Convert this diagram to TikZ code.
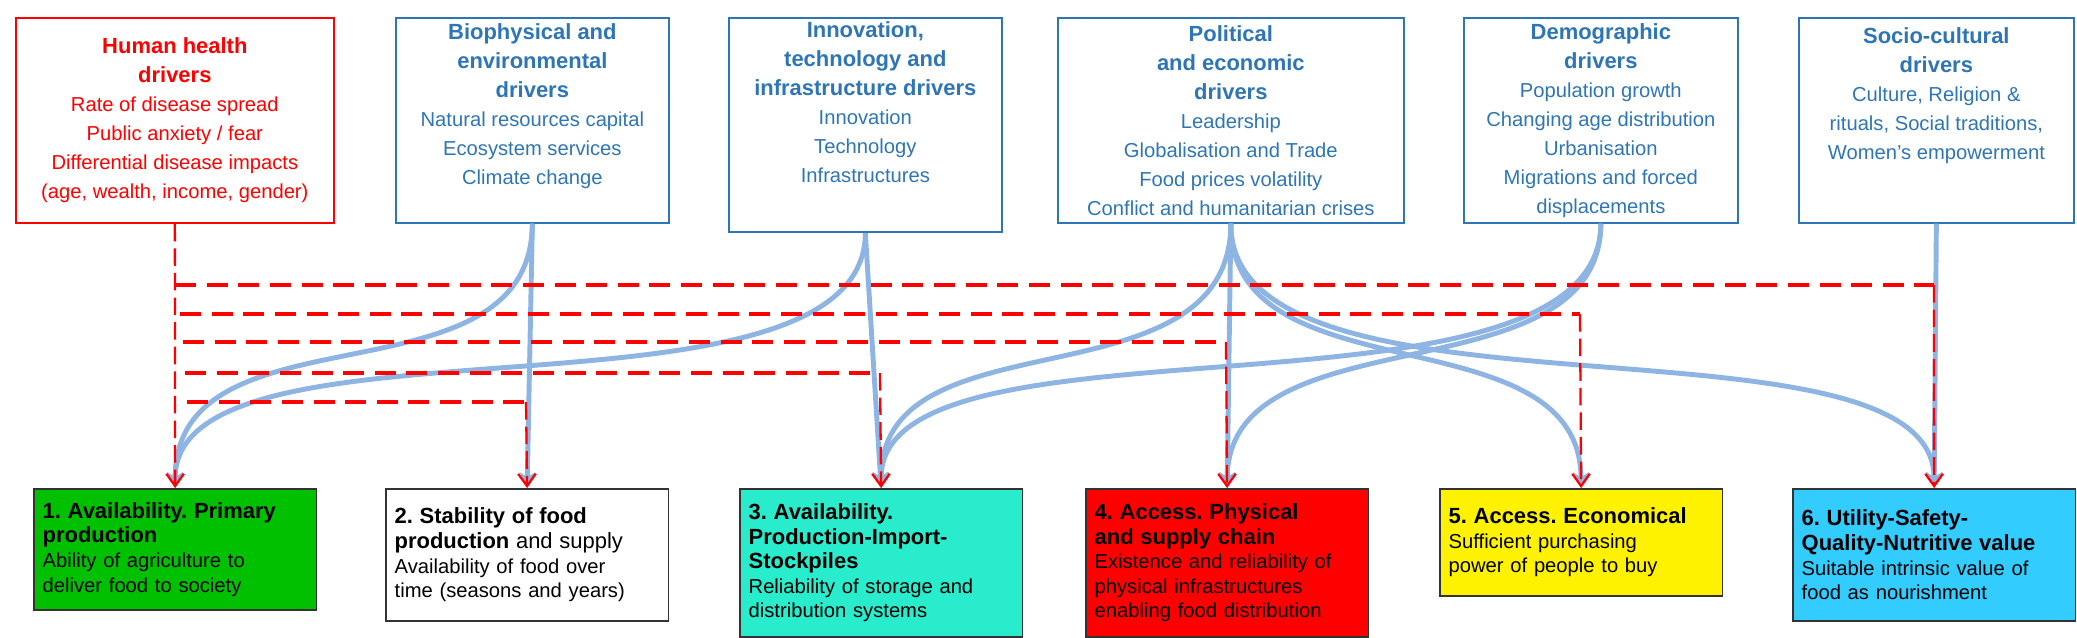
\documentclass[tikz,border=0pt]{standalone}
\usepackage{fontspec}
\setmainfont{Liberation Sans}
\usetikzlibrary{arrows.meta}
\definecolor{dblue}{RGB}{46,117,182}
\definecolor{lblue}{RGB}{141,180,226}
\definecolor{bgreen}{RGB}{0,192,0}
\definecolor{bcyan}{RGB}{40,236,204}
\definecolor{bsky}{RGB}{51,204,255}
\frenchspacing
\newcommand{\toptitle}[1]{\textbf{\fontsize{12.5}{16.5}\selectfont #1}}
\newcommand{\bottitle}[1]{\textbf{\fontsize{12.5}{15}\selectfont #1}}
\tikzset{
  topbox/.style={draw=dblue, line width=1pt, text=dblue, align=center, anchor=north west, inner sep=2pt, font=\fontsize{11.5}{16.5}\selectfont},
  botbox/.style={draw=black!80, line width=1pt, text=black, align=left, anchor=north west, inner sep=5pt, font=\fontsize{11.5}{14}\selectfont},
  bluearr/.style={draw=lblue, line width=2.8pt, -{Stealth[length=9pt,width=9pt]}},
  redh/.style={draw=red, line width=2.2pt, dash pattern=on 12pt off 6pt},
  redv/.style={draw=red, line width=1.3pt, dash pattern=on 10pt off 4pt, -{Straight Barb[length=7pt,width=10pt]}},
}
\begin{document}
\begin{tikzpicture}[x=0.02cm,y=-0.02cm]
\useasboundingbox (0,0) rectangle (2077,637);
% top boxes
\node[topbox, draw=red, text=red, minimum width=6.36cm, minimum height=4.1cm] (hh) at (15,17)
 {\toptitle{Human health}\\\toptitle{drivers}\\Rate of disease spread\\Public anxiety / fear\\Differential disease impacts\\(age, wealth, income, gender)};
\node[topbox, minimum width=5.46cm, minimum height=4.1cm] (bio) at (395,17)
 {\toptitle{Biophysical and}\\\toptitle{environmental}\\\toptitle{drivers}\\Natural resources capital\\Ecosystem services\\Climate change\\[2pt]};
\node[topbox, minimum width=5.46cm, minimum height=4.1cm] (inn) at (728,17)
 {\toptitle{Innovation,}\\\toptitle{technology and}\\\toptitle{infrastructure drivers}\\Innovation\\Technology\\Infrastructures\\[10pt]};
\node[topbox, minimum width=6.92cm, minimum height=4.1cm] (pol) at (1057,17)
 {\toptitle{Political}\\\toptitle{and economic}\\\toptitle{drivers}\\Leadership\\Globalisation and Trade\\Food prices volatility\\Conflict and humanitarian crises};
\node[topbox, minimum width=5.48cm, minimum height=4.1cm] (dem) at (1463,17)
 {\toptitle{Demographic}\\\toptitle{drivers}\\Population growth\\Changing age distribution\\Urbanisation\\Migrations and forced\\displacements};
\node[topbox, minimum width=5.5cm, minimum height=4.1cm] (soc) at (1798,17)
 {\toptitle{Socio-cultural}\\\toptitle{drivers}\\Culture, Religion \&\\rituals, Social traditions,\\Women's empowerment\\[14pt]};
% bottom boxes
\node[botbox, fill=bgreen, minimum width=5.64cm, minimum height=2.42cm, text width=5.3cm] (b1) at (33,488)
 {\bottitle{1. Availability. Primary}\\\bottitle{production}\\Ability of agriculture to\\deliver food to society\\[8pt]};
\node[botbox, fill=white, minimum width=5.64cm, minimum height=2.64cm, text width=5.3cm] (b2) at (385,488)
 {\bottitle{2. Stability of food}\\{\fontsize{12.5}{15}\selectfont\textbf{production} and supply}\\Availability of food over\\time (seasons and years)\\[16pt]};
\node[botbox, fill=bcyan, minimum width=5.62cm, minimum height=2.96cm, text width=5.3cm] (b3) at (739,488)
 {\bottitle{3. Availability.}\\\bottitle{Production-Import-}\\\bottitle{Stockpiles}\\Reliability of storage and\\distribution systems\\[8pt]};
\node[botbox, fill=red, minimum width=5.64cm, minimum height=2.96cm, text width=5.3cm] (b4) at (1085,488)
 {\bottitle{4. Access. Physical}\\\bottitle{and supply chain}\\Existence and reliability of\\physical infrastructures\\enabling food distribution\\[4pt]};
\node[botbox, fill=yellow, minimum width=5.64cm, minimum height=2.14cm, text width=5.3cm] (b5) at (1439,488)
 {\bottitle{5. Access. Economical}\\Sufficient purchasing\\power of people to buy\\[10pt]};
\node[botbox, fill=bsky, minimum width=5.64cm, minimum height=2.64cm, text width=5.3cm] (b6) at (1792,488)
 {\bottitle{6. Utility-Safety-}\\\bottitle{Quality-Nutritive value}\\Suitable intrinsic value of\\food as nourishment\\[20pt]};
% blue connectors
\draw[bluearr] (bio.south) -- (b2.north);
\draw[bluearr] (inn.south) -- (b3.north);
\draw[bluearr] (pol.south) -- (b4.north);
\draw[bluearr] (soc.south) -- (b6.north);
\draw[bluearr] (bio.south) .. controls (531,410) and (175,300) .. (b1.north);
\draw[bluearr] (inn.south) .. controls (864,440) and (175,300) .. (b1.north);
\draw[bluearr] (pol.south) .. controls (1230,410) and (880,310) .. (b3.north);
\draw[bluearr] (dem.south) .. controls (1600,440) and (880,300) .. (b3.north);
\draw[bluearr] (dem.south) .. controls (1600,400) and (1228,310) .. (b4.north);
\draw[bluearr] (pol.south) .. controls (1230,400) and (1580,310) .. (b5.north);
\draw[bluearr] (pol.south) .. controls (1230,440) and (1934,300) .. (b6.north);
% red dashed connectors
\coordinate (r0) at (175,285);
\coordinate (r1) at (1934,285);
\coordinate (r2) at (1580,314);
\coordinate (r3) at (1226,342);
\coordinate (r4) at (880,373);
\coordinate (r5) at (526,402);
\draw[redh] (r0) -- (r1);
\draw[redh] (180,314) -- (r2);
\draw[redh] (183,342) -- (r3);
\draw[redh] (185,373) -- (r4);
\draw[redh] (187,402) -- (r5);
\draw[redv] (hh.south) -- (b1.north);
\draw[redv] (r1) -- (b6.north);
\draw[redv] (r2) -- (b5.north);
\draw[redv] (r3) -- (b4.north);
\draw[redv] (r4) -- (b3.north);
\draw[redv] (r5) -- (b2.north);
\end{tikzpicture}
\end{document}
